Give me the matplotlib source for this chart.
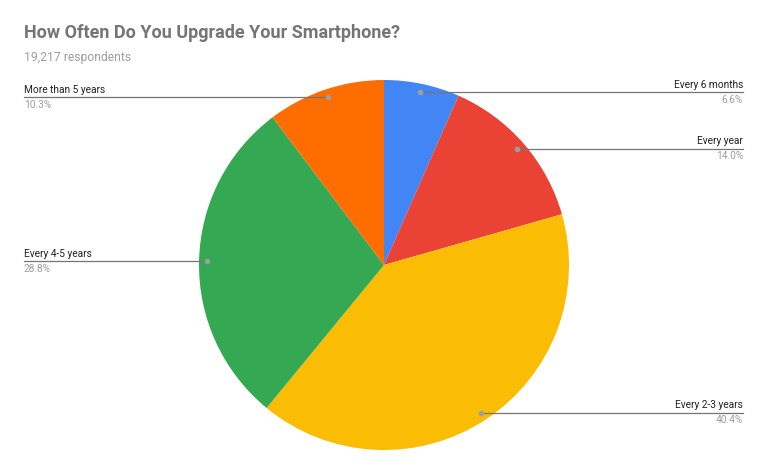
import numpy as np
import matplotlib.pyplot as plt

plt.rcParams['font.family'] = ['Roboto', 'DejaVu Sans']

labels = ['Every 6 months', 'Every year', 'Every 2-3 years', 'Every 4-5 years', 'More than 5 years']
shares = [6.6, 14.0, 40.4, 28.8, 10.3]
colors = ['#4285F4', '#EA4335', '#FBBC04', '#34A853', '#FF6D01']

W, H = 768, 475
cx, cy, R = 384, H - 265, 185

fig = plt.figure(figsize=(W / 100, H / 100), dpi=100)
ax = fig.add_axes([0, 0, 1, 1])
ax.set_xlim(0, W)
ax.set_ylim(0, H)
ax.set_aspect('equal')
ax.axis('off')

ax.pie(shares, colors=colors, startangle=90, counterclock=False,
       center=(cx, cy), radius=R, wedgeprops=dict(linewidth=0))
ax.set_xlim(0, W)
ax.set_ylim(0, H)

# leader lines and labels
total = sum(shares)
cum = 0
for lab, s in zip(labels, shares):
    mid = (cum + s / 2) / total * 360
    cum += s
    ang = np.deg2rad(90 - mid)
    px = cx + 0.955 * R * np.cos(ang)
    py = cy + 0.955 * R * np.sin(ang)
    if px >= cx:
        x_end, ha = 743, 'right'
    else:
        x_end, ha = 24, 'left'
    ax.plot([px, x_end], [py, py], color='#757575', lw=0.9, zorder=5)
    ax.plot(px, py, 'o', color='#9e9e9e', ms=3, zorder=6)
    ax.text(x_end, py + 2.5, lab, ha=ha, va='bottom', fontsize=7.3, color='#222222')
    ax.text(x_end, py - 2.5, f'{s:.1f}%', ha=ha, va='top', fontsize=7.3, color='#9e9e9e')

fig.text(24 / W, 1 - 33 / H, 'How Often Do You Upgrade Your Smartphone?',
         fontsize=13, fontweight='bold', color='#757575', va='center')
fig.text(24 / W, 1 - 57 / H, '19,217 respondents', fontsize=8.7,
         color='#9e9e9e', va='center')

plt.savefig('out.png', dpi=100)
